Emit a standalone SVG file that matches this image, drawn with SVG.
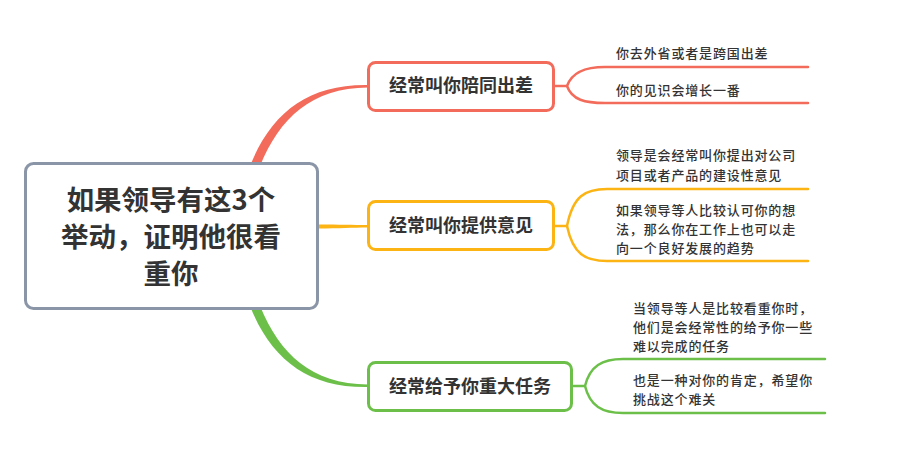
<svg xmlns="http://www.w3.org/2000/svg" width="897" height="456" viewBox="0 0 897 456">
<style>
text{font-family:"Noto Sans CJK SC","Noto Sans",sans-serif;fill:#333}
.root{font-size:27.5px;font-weight:bold;text-anchor:middle}
.main{font-size:18px;font-weight:bold;text-anchor:middle}
.sub{font-size:13px;font-weight:500;letter-spacing:0.85px}
.box{fill:#fff;stroke-width:3}
.br{fill:none;stroke-width:2.5;stroke-linecap:round}
</style>
<rect width="897" height="456" fill="#fff"/>
<g id="connectors">
<path d="M250,166 C271,113 308,84 368,85 L368,87.5 C311,88 280,118 260,166 Z" fill="#f36c5b"/>
<path d="M318,224.5 C340,224.5 352,225 368,225 L368,227.5 C352,227.5 340,228.5 318,228.5 Z" fill="#fbb414"/>
<path d="M250,306 C271,359 308,388 368,387 L368,384.5 C311,384 280,354 260,306 Z" fill="#6cc04a"/>
<g stroke="#f36c5b" class="br">
<path d="M554,86 H567 C572,72 585,67 605,67 H808"/>
<path d="M567,86 C572,100 585,103 605,103 H808"/>
</g>
<g stroke="#fbb414" class="br">
<path d="M554,226 H567 C573,196 585,189 607,189 H808"/>
<path d="M567,226 C573,254 585,261 607,261 H808"/>
</g>
<g stroke="#6cc04a" class="br">
<path d="M572,386 H585 C590,366 602,359 623,359 H825"/>
<path d="M585,386 C590,406 602,413 623,413 H825"/>
</g>
</g>
<g id="root">
<rect class="box" x="25.5" y="163.5" width="292" height="145" rx="8" stroke="#8a95a7"/>
<text class="root" x="171" y="210">如果领导有这3个</text>
<text class="root" x="171" y="247">举动，证明他很看</text>
<text class="root" x="171" y="284">重你</text>
</g>
<g id="node1">
<rect class="box" x="368.5" y="62.5" width="185" height="48" rx="7" stroke="#f36c5b"/>
<text class="main" x="461" y="92">经常叫你陪同出差</text>
</g>
<g id="node1a"><text class="sub" x="616" y="58">你去外省或者是跨国出差</text></g>
<g id="node1b"><text class="sub" x="616" y="95">你的见识会增长一番</text></g>
<g id="node2">
<rect class="box" x="368.5" y="201.5" width="185" height="48" rx="7" stroke="#fbb414"/>
<text class="main" x="461" y="232">经常叫你提供意见</text>
</g>
<g id="node2a">
<text class="sub" x="616" y="160">领导是会经常叫你提出对公司</text>
<text class="sub" x="616" y="179.5">项目或者产品的建设性意见</text>
</g>
<g id="node2b">
<text class="sub" x="616" y="215">如果领导等人比较认可你的想</text>
<text class="sub" x="616" y="234">法，那么你在工作上也可以走</text>
<text class="sub" x="616" y="253">向一个良好发展的趋势</text>
</g>
<g id="node3">
<rect class="box" x="368.5" y="362.5" width="203" height="48" rx="7" stroke="#6cc04a"/>
<text class="main" x="470" y="393">经常给予你重大任务</text>
</g>
<g id="node3a">
<text class="sub" x="633" y="313">当领导等人是比较看重你时，</text>
<text class="sub" x="633" y="332">他们是会经常性的给予你一些</text>
<text class="sub" x="633" y="351">难以完成的任务</text>
</g>
<g id="node3b">
<text class="sub" x="633" y="385">也是一种对你的肯定，希望你</text>
<text class="sub" x="633" y="404">挑战这个难关</text>
</g>
</svg>
